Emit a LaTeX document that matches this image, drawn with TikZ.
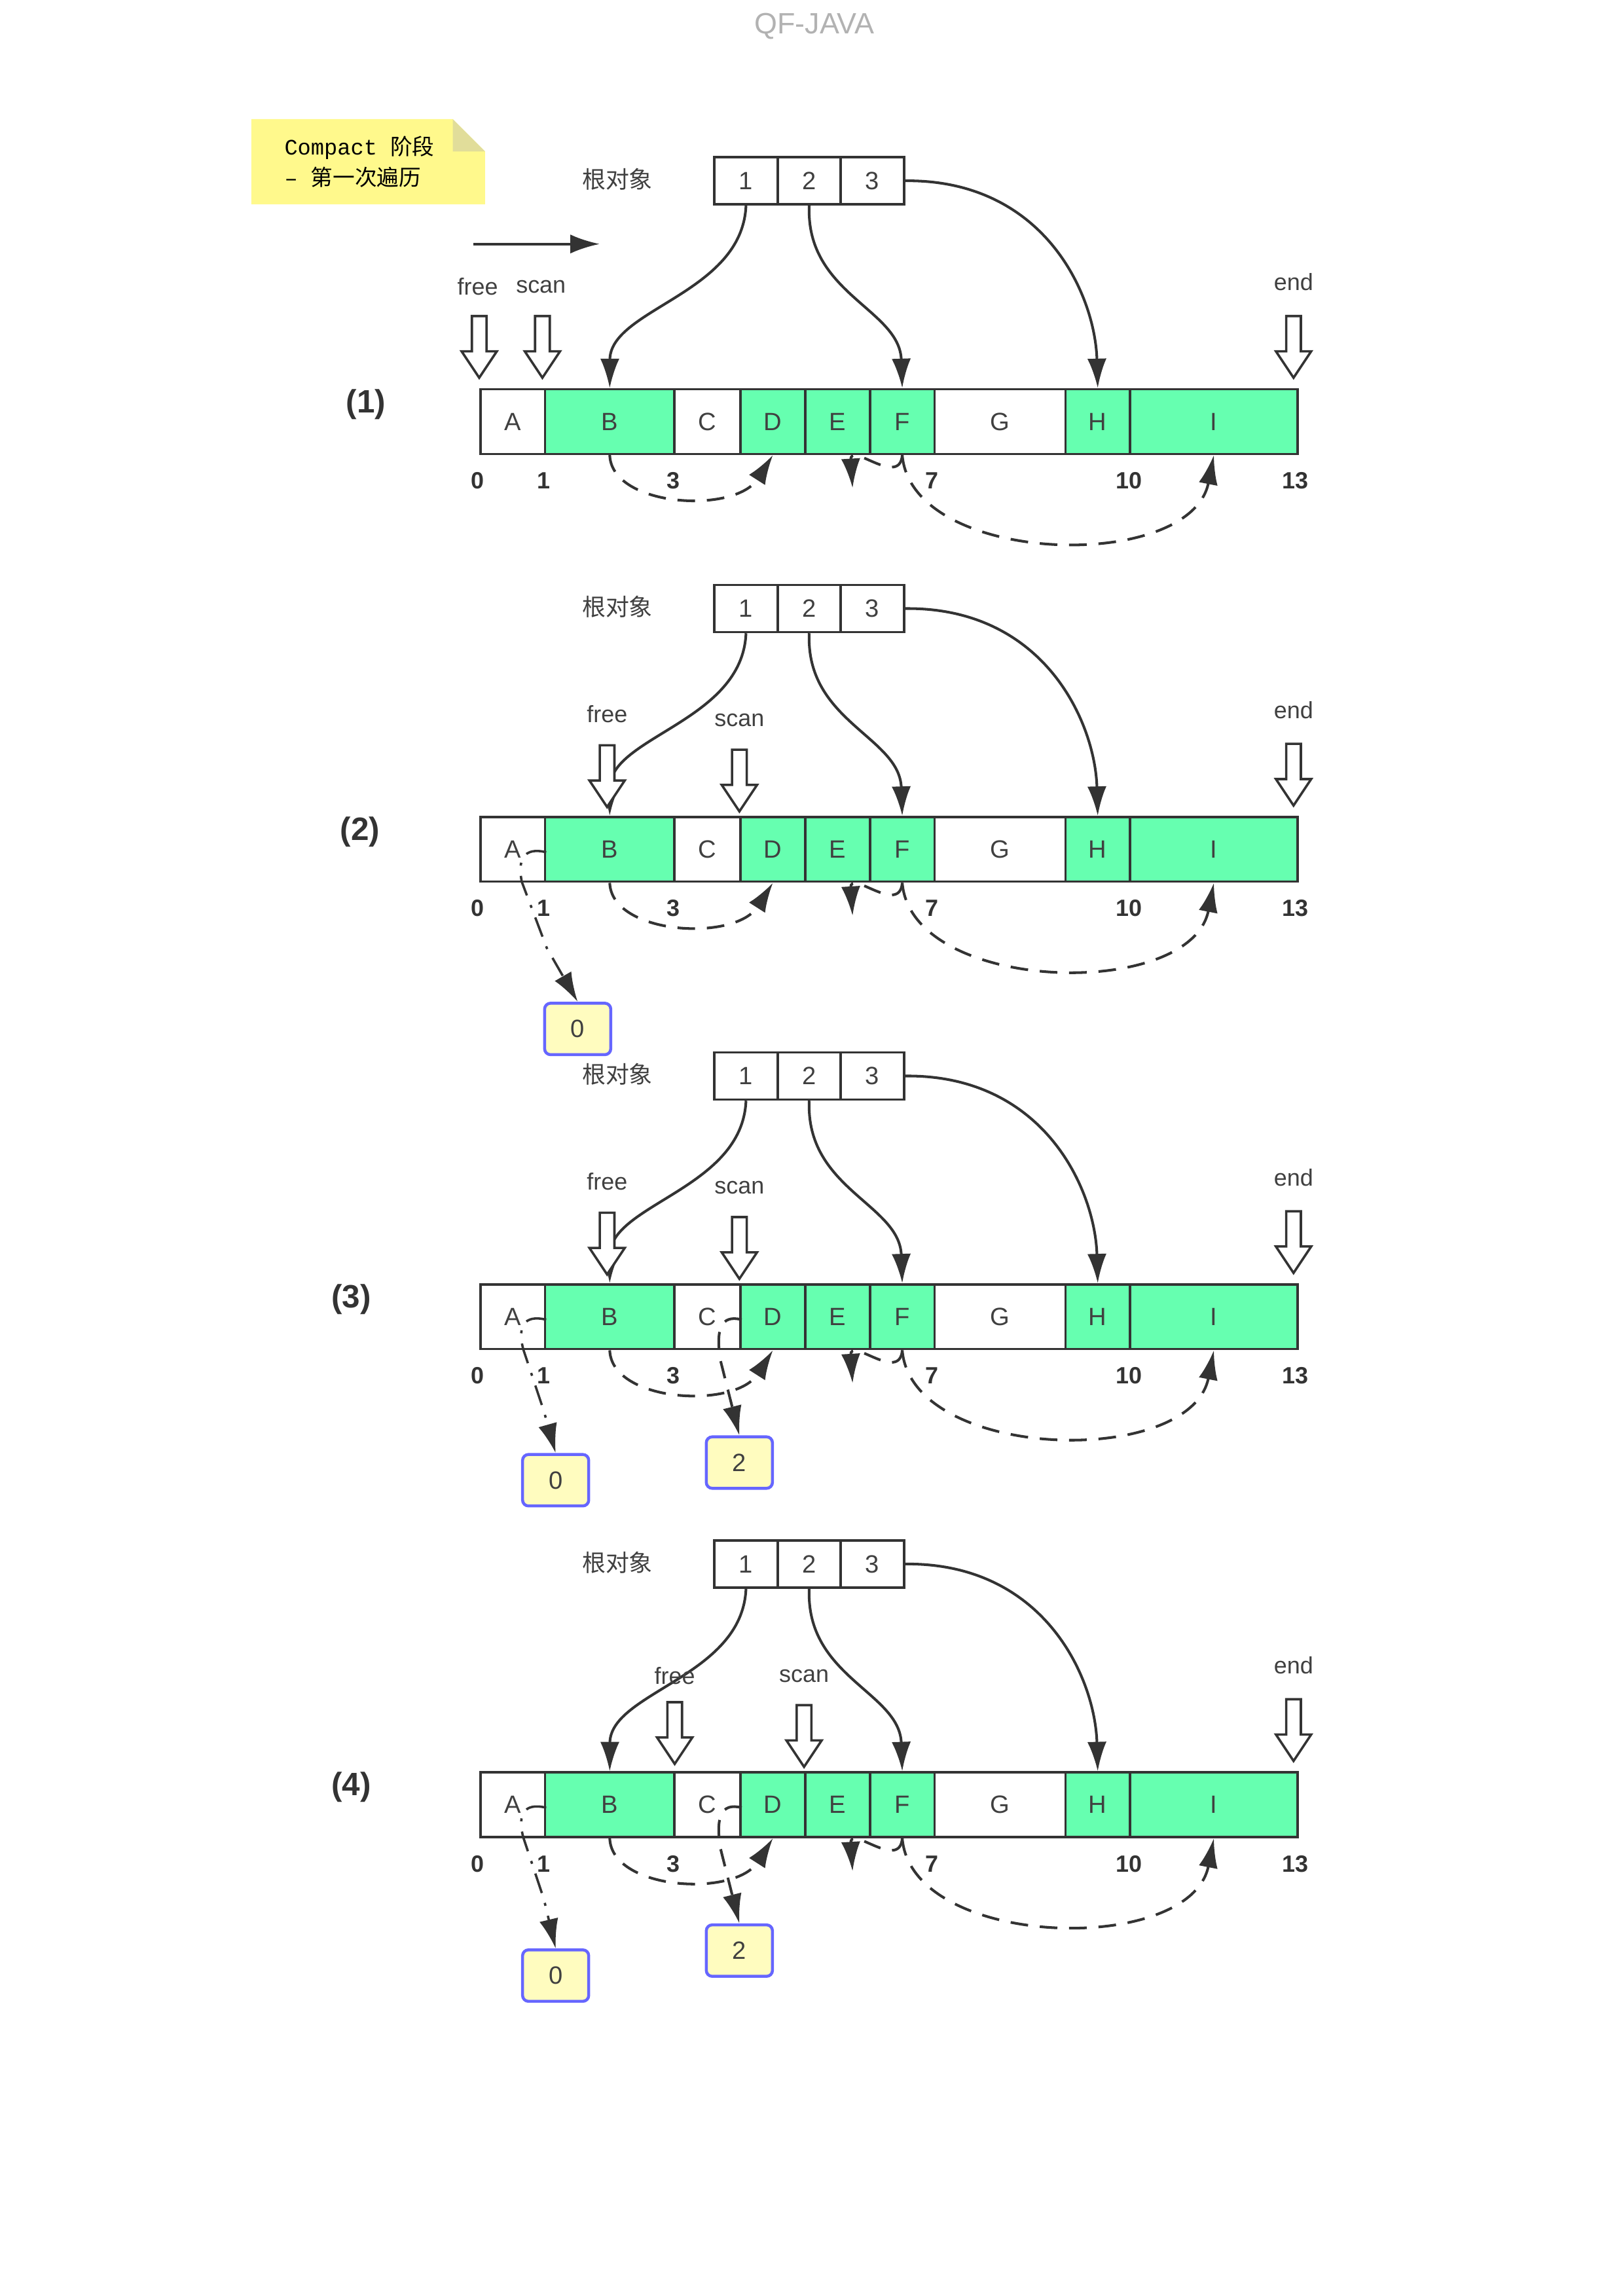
\documentclass[tikz,border=0pt]{standalone}
\usepackage{fontspec}
\setmainfont{Liberation Sans}
\newfontfamily\cjk{Noto Sans CJK SC}
\newfontfamily\mono{Liberation Mono}
\usetikzlibrary{arrows.meta}
\definecolor{liveg}{HTML}{66FFB0}
\tikzset{
  cell/.style={draw=black!80,line width=1.6pt,minimum height=44pt,inner sep=0pt,anchor=north west,font=\fontsize{17}{19}\selectfont\color{black!75}},
  live/.style={cell,fill=liveg},
  dead/.style={cell,fill=white},
  rootc/.style={draw=black!80,line width=1.6pt,minimum width=43pt,minimum height=32pt,inner sep=0pt,font=\fontsize{17}{19}\selectfont\color{black!75}},
  lbl/.style={font=\fontsize{16}{18}\selectfont\color{black!75}},
  num/.style={font=\bfseries\fontsize{16}{18}\selectfont\color{black!80}},
  sec/.style={font=\bfseries\fontsize{22}{24}\selectfont\color{black!80}},
  ref/.style={draw=black!80,line width=1.8pt,-{Latex[length=20pt,width=13pt]}},
  fwd/.style={draw=black!80,line width=1.8pt,dash pattern=on 12pt off 8pt,-{Latex[length=20pt,width=13pt]}},
  ptr/.style={draw=black!80,line width=1.6pt,dash pattern=on 14pt off 7pt on 2pt off 7pt,-{Latex[length=20pt,width=13pt]}},
  idx/.style={draw=blue!60,line width=2pt,fill=yellow!25,rounded corners=4pt,minimum width=45pt,minimum height=35pt,font=\fontsize{17}{19}\selectfont\color{black!75}},
  holl/.style={draw=black!80,line width=1.6pt,fill=white}
}
\newcommand{\hollowarrow}[3]{% name, x, ytop
  \draw[holl] (#2-5,#3) -- (#2+5,#3) -- (#2+5,#3+24) -- (#2+12,#3+24) -- (#2,#3+42) -- (#2-12,#3+24) -- (#2-5,#3+24) -- cycle;
  \coordinate (#1) at (#2,#3+42);}
\newcommand{\gcsection}[4]{% id, dy, seclabel, seclabel x
  \begin{scope}[yshift=-#2pt]
  \node[lbl] (root#1) at (420,122) {\cjk 根对象};
  \node[rootc] (r1#1) at (507.5,123) {1};
  \node[rootc] (r2#1) at (550.5,123) {2};
  \node[rootc] (r3#1) at (593.5,123) {3};
  \node[sec] (s#1) at (#4,275) {#3};
  \node[dead,minimum width=44pt] (A#1) at (326,264) {A};
  \node[live,minimum width=88pt] (B#1) at (370,264) {B};
  \node[dead,minimum width=45pt] (C#1) at (458,264) {C};
  \node[live,minimum width=44pt] (D#1) at (503,264) {D};
  \node[live,minimum width=44pt] (E#1) at (547,264) {E};
  \node[live,minimum width=44pt] (F#1) at (591,264) {F};
  \node[dead,minimum width=89pt] (G#1) at (635,264) {G};
  \node[live,minimum width=44pt] (H#1) at (724,264) {H};
  \node[live,minimum width=114pt] (I#1) at (768,264) {I};
  \node[num] (n0#1) at (325,327) {0};
  \node[num] (n1#1) at (370,327) {1};
  \node[num] (n3#1) at (458,327) {3};
  \node[num] (n7#1) at (634,327) {7};
  \node[num] (n10#1) at (768,327) {10};
  \node[num] (n13#1) at (881,327) {13};
  \draw[ref] (r2#1.south) .. controls (548,200) and (612,210) .. (F#1.north);
  \draw[ref] (r3#1.east) .. controls (710,122) and (745,200) .. (H#1.north);
  \draw[fwd] (B#1.south) .. controls (416,345) and (500,350) .. (D#1.south);
  \draw[fwd] (F#1.south) .. controls (620,385) and (810,390) .. (I#1.south);
  \draw[fwd] (F#1.south) .. controls (612,332) and (578,300) .. (580,332);
  \node[lbl] (end#1) at (880,192) {end};
  \hollowarrow{ea#1}{880}{215}
  \end{scope}}
\begin{document}
\begin{tikzpicture}[x=1pt,y=-1pt]
\useasboundingbox (0,0) rectangle (1104,1562);
\node[font=\fontsize{20}{22}\selectfont,text=black!30] (title) at (554,18) {QF-JAVA};
\fill[yellow!45] (171,81) -- (308,81) -- (330,103) -- (330,139) -- (171,139) -- cycle;
\fill[yellow!70!black!45] (308,81) -- (330,103) -- (308,103) -- cycle;
\node[align=left,anchor=west,font=\mono\fontsize{15}{21}\selectfont] (note) at (190,110) {Compact {\cjk 阶段}\\ – {\cjk 第一次遍历}};
\draw[ref] (322,166) -- (408,166);
% section 1
\gcsection{a}{0}{(1)}{249}
\draw[ref] (r1a.south) .. controls (505,200) and (415,210) .. (Ba.north);
\node[lbl] (fa) at (325,195) {free};
\node[lbl] (sa) at (368,195) {scan};
\hollowarrow{fra}{326}{215}
\hollowarrow{sca}{369}{215}
% section 2
\gcsection{b}{291}{(2)}{245}
\draw[ref] (r1b.south) .. controls (505,491) and (415,501) .. (Bb.north);
\node[lbl] (fb) at (413,486) {free};
\node[lbl] (sb) at (503,490) {scan};
\hollowarrow{frb}{413}{507}
\hollowarrow{scb}{503}{510}
\node[idx] (zb) at (393,700) {0};
\draw[ptr] (Ab.east) ++(0,2) .. controls (356,576) and (352,585) .. (355,600) -- (372,645) -- (zb.north);
% section 3
\gcsection{c}{609}{(3)}{239}
\draw[ref] (r1c.south) .. controls (505,809) and (415,819) .. (Bc.north);
\node[lbl] (fc) at (413,804) {free};
\node[lbl] (sc) at (503,808) {scan};
\hollowarrow{frc}{413}{825}
\hollowarrow{scc}{503}{828}
\node[idx] (zc) at (378,1007) {0};
\node[idx] (tc) at (503,995) {2};
\draw[ptr] (Ac.east) ++(0,2) .. controls (356,894) and (352,903) .. (356,918) -- (370,960) -- (zc.north);
\draw[fwd] (Cc.east) ++(0,2) .. controls (490,894) and (487,905) .. (490,925) -- (tc.north);
% section 4
\gcsection{d}{941}{(4)}{239}
\draw[ref] (r1d.south) .. controls (505,1141) and (415,1151) .. (Bd.north);
\node[lbl] (fd) at (459,1140) {free};
\node[lbl] (sd) at (547,1140) {scan};
\hollowarrow{frd}{459}{1158}
\hollowarrow{scd}{547}{1160}
\node[idx] (zd) at (378,1344) {0};
\node[idx] (td) at (503,1327) {2};
\draw[ptr] (Ad.east) ++(0,2) .. controls (356,1226) and (352,1235) .. (356,1250) -- (370,1292) -- (zd.north);
\draw[fwd] (Cd.east) ++(0,2) .. controls (490,1226) and (487,1237) .. (490,1257) -- (td.north);
\end{tikzpicture}
\end{document}
